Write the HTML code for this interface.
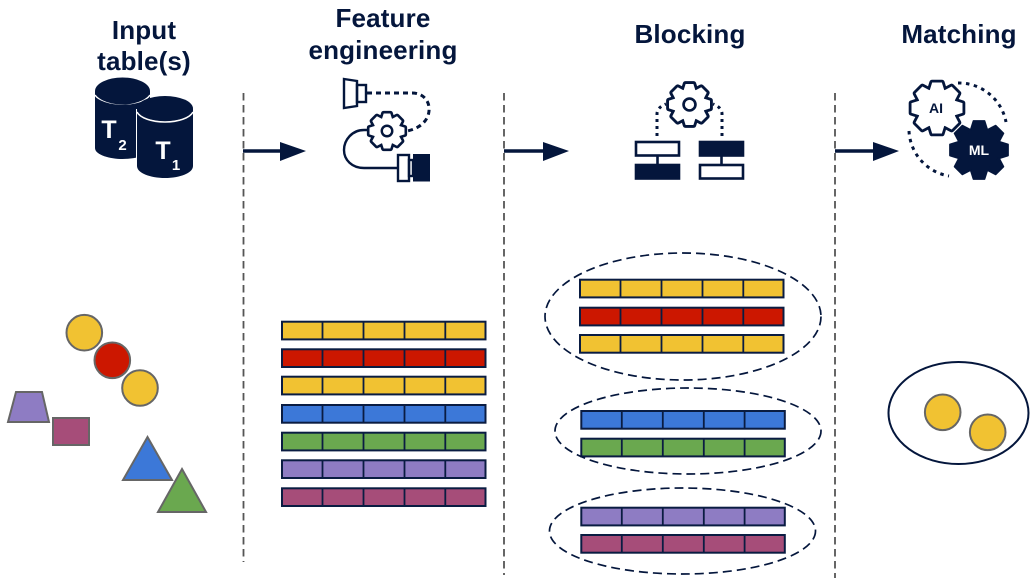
<!DOCTYPE html>
<html>
<head>
<meta charset="utf-8">
<style>
html,body{margin:0;padding:0;background:#fff;width:1036px;height:578px;overflow:hidden}
svg{display:block}
text{font-family:"Liberation Sans",sans-serif;font-weight:bold}
</style>
</head>
<body>
<svg width="1036" height="578" viewBox="0 0 1036 578" xmlns="http://www.w3.org/2000/svg">
<defs>
<g id="row">
<rect x="0" y="0" width="203.500" height="17.700" stroke="#0a1c42" stroke-width="2"/>
<path d="M40.500 0V17.700M81.500 0V17.700M122.500 0V17.700M163.300 0V17.700" stroke="#0a1c42" stroke-width="1.800" fill="none"/>
</g>
<g id="gear" stroke-linejoin="round">
<circle r="0.76"/>
<path id="t" d="M-.29 -.68L-.19 -1H.19L.29 -.68Z"/>
<path d="M-.29 -.68L-.19 -1H.19L.29 -.68Z" transform="rotate(45)"/>
<path d="M-.29 -.68L-.19 -1H.19L.29 -.68Z" transform="rotate(90)"/>
<path d="M-.29 -.68L-.19 -1H.19L.29 -.68Z" transform="rotate(135)"/>
<path d="M-.29 -.68L-.19 -1H.19L.29 -.68Z" transform="rotate(180)"/>
<path d="M-.29 -.68L-.19 -1H.19L.29 -.68Z" transform="rotate(225)"/>
<path d="M-.29 -.68L-.19 -1H.19L.29 -.68Z" transform="rotate(270)"/>
<path d="M-.29 -.68L-.19 -1H.19L.29 -.68Z" transform="rotate(315)"/>
</g>
</defs>

<!-- Titles -->
<g fill="#04163c" font-size="26" text-anchor="middle" letter-spacing="0.150">
<text x="144" y="39">Input</text>
<text x="144" y="70">table(s)</text>
<text x="383" y="27">Feature</text>
<text x="383" y="59">engineering</text>
<text x="690" y="43">Blocking</text>
<text x="959" y="43">Matching</text>
</g>

<!-- Dashed separators -->
<g stroke="#555" stroke-width="1.800" stroke-dasharray="7.500 4.500" fill="none">
<path d="M243.500 93V562"/>
<path d="M504 93V575"/>
<path d="M835 93V578"/>
</g>

<!-- Arrows -->
<g stroke="#04163c" stroke-width="3.600" fill="none">
<path d="M243 151H282"/>
<path d="M504 151H545"/>
<path d="M835 151H875"/>
</g>
<g fill="#04163c">
<path d="M280 142L306 151L280 161Z"/>
<path d="M543 142L569 151L543 161Z"/>
<path d="M873 142L899 151L873 161Z"/>
</g>

<!-- Cylinders -->
<path d="M95 91V148C95 155 110 159 122.500 159C136 159 150 155 150 148V91Z" fill="#04163c"/>
<path d="M95 95C98 100 110 104 122.500 104C136 104 147 100 150 95" fill="none" stroke="#fff" stroke-width="1.500"/>
<ellipse cx="122.500" cy="91" rx="27.500" ry="13.500" fill="#04163c"/>
<path d="M136 109V166C136 174 150 179 165 179C180 179 194 174 194 166V109Z" fill="#fff"/>
<path d="M137 109V166C137 173 150 178 165 178C180 178 193 173 193 166V109Z" fill="#04163c"/>
<path d="M137 112C140 118 152 122 165 122C178 122 190 118 193 112" fill="none" stroke="#fff" stroke-width="1.500"/>
<ellipse cx="165" cy="108.500" rx="28" ry="12.500" fill="#04163c"/>
<g fill="#fff">
<text x="109" y="138" font-size="25" text-anchor="middle">T</text>
<text x="122.500" y="150" font-size="15" text-anchor="middle">2</text>
<text x="163" y="159" font-size="25" text-anchor="middle">T</text>
<text x="176" y="170" font-size="15" text-anchor="middle">1</text>
</g>

<!-- Feature icon -->
<g fill="none" stroke="#04163c" stroke-width="2.400">
<path d="M344 79L357 81V106L344 108Z"/>
<rect x="357" y="85" width="9" height="17"/>
<path d="M367 93H412C424 93 430 102 429 111C428 122 418 129 407 131" stroke-width="3" stroke-dasharray="5 4"/>
<path d="M368 130H364C352 130 344 140 344 150C344 160 352 168 364 168H398"/>
<rect x="398" y="155" width="11" height="26"/>
<rect x="409" y="160" width="4" height="16"/>
</g>
<rect x="413" y="154" width="17" height="27.500" fill="#04163c"/>
<g transform="translate(387 131) scale(17.500)">
<use href="#gear" fill="#04163c" stroke="#04163c" stroke-width="0.300"/>
<use href="#gear" fill="#fff"/>
<circle r="0.300" fill="#fff" stroke="#04163c" stroke-width="0.140"/>
</g>

<!-- Blocking icon -->
<g fill="none" stroke="#04163c" stroke-width="3" stroke-dasharray="3 4">
<path d="M657 136V114C657 110 660 106 666 104"/>
<path d="M722 136V114C722 110 719 106 713 104"/>
</g>
<g transform="translate(689.500 104.500) scale(20.500)">
<use href="#gear" fill="#04163c" stroke="#04163c" stroke-width="0.280"/>
<use href="#gear" fill="#fff"/>
<circle r="0.290" fill="#fff" stroke="#04163c" stroke-width="0.130"/>
</g>
<g stroke="#04163c" stroke-width="2.600">
<rect x="636" y="142" width="43" height="13.500" fill="#fff"/>
<rect x="636" y="165" width="43" height="13.500" fill="#04163c"/>
<path d="M657.500 155V165"/>
<rect x="700" y="142" width="43" height="13.500" fill="#04163c"/>
<rect x="700" y="165" width="43" height="13.500" fill="#fff"/>
<path d="M721.500 155V165"/>
</g>

<!-- Matching icon -->
<path d="M958 83A48 48 0 0 1 1006 122" fill="none" stroke="#04163c" stroke-width="3" stroke-dasharray="3.500 4.500"/>
<path d="M909 131A48 48 0 0 0 949 176" fill="none" stroke="#04163c" stroke-width="3" stroke-dasharray="3.500 4.500"/>
<g transform="translate(937 108) scale(25.500)">
<use href="#gear" fill="#04163c" stroke="#04163c" stroke-width="0.220"/>
<use href="#gear" fill="#fff"/>
</g>
<g transform="translate(979 150) scale(29)">
<use href="#gear" fill="#04163c" stroke="#04163c" stroke-width="0.060"/>
</g>
<text x="936" y="113" font-size="14" fill="#04163c" text-anchor="middle">AI</text>
<text x="979" y="155" font-size="14" fill="#fff" text-anchor="middle">ML</text>

<!-- Input shapes -->
<g stroke="#666" stroke-width="2">
<circle cx="84.300" cy="332.700" r="17.800" fill="#f1c232"/>
<circle cx="112.300" cy="360.300" r="17.800" fill="#cc1700"/>
<circle cx="140" cy="388" r="17.800" fill="#f1c232"/>
<path d="M16 392H42L49 422H8Z" fill="#8e7cc3"/>
<rect x="53" y="418" width="36" height="27" fill="#a64d79"/>
<path d="M147.500 437L172 480H123Z" fill="#3c78d8"/>
<path d="M182 469L206 512H158Z" fill="#6aa84f"/>
</g>

<!-- Feature rows -->
<use href="#row" x="282" y="321.700" fill="#f1c232"/>
<use href="#row" x="282" y="349.300" fill="#cc1700"/>
<use href="#row" x="282" y="376.700" fill="#f1c232"/>
<use href="#row" x="282" y="405" fill="#3c78d8"/>
<use href="#row" x="282" y="432.700" fill="#6aa84f"/>
<use href="#row" x="282" y="460.300" fill="#8e7cc3"/>
<use href="#row" x="282" y="488.300" fill="#a64d79"/>

<!-- Blocking rows -->
<use href="#row" x="580" y="279.700" fill="#f1c232"/>
<use href="#row" x="580" y="307.700" fill="#cc1700"/>
<use href="#row" x="580" y="335" fill="#f1c232"/>
<use href="#row" x="581.300" y="411" fill="#3c78d8"/>
<use href="#row" x="581.300" y="438.700" fill="#6aa84f"/>
<use href="#row" x="581.300" y="507.700" fill="#8e7cc3"/>
<use href="#row" x="581.300" y="535" fill="#a64d79"/>

<!-- Blocking ellipses -->
<g fill="none" stroke="#04163c" stroke-width="1.700" stroke-dasharray="9 5">
<ellipse cx="683" cy="316.500" rx="138" ry="63.500"/>
<ellipse cx="688" cy="431" rx="133" ry="43"/>
<ellipse cx="682.500" cy="531" rx="133" ry="43"/>
</g>

<!-- Matching result -->
<ellipse cx="958.500" cy="413" rx="70" ry="51" fill="#fff" stroke="#04163c" stroke-width="2"/>
<g stroke="#666" stroke-width="2" fill="#f1c232">
<circle cx="942.700" cy="412.300" r="17.800"/>
<circle cx="987.700" cy="432.300" r="17.800"/>
</g>
</svg>
</body>
</html>
